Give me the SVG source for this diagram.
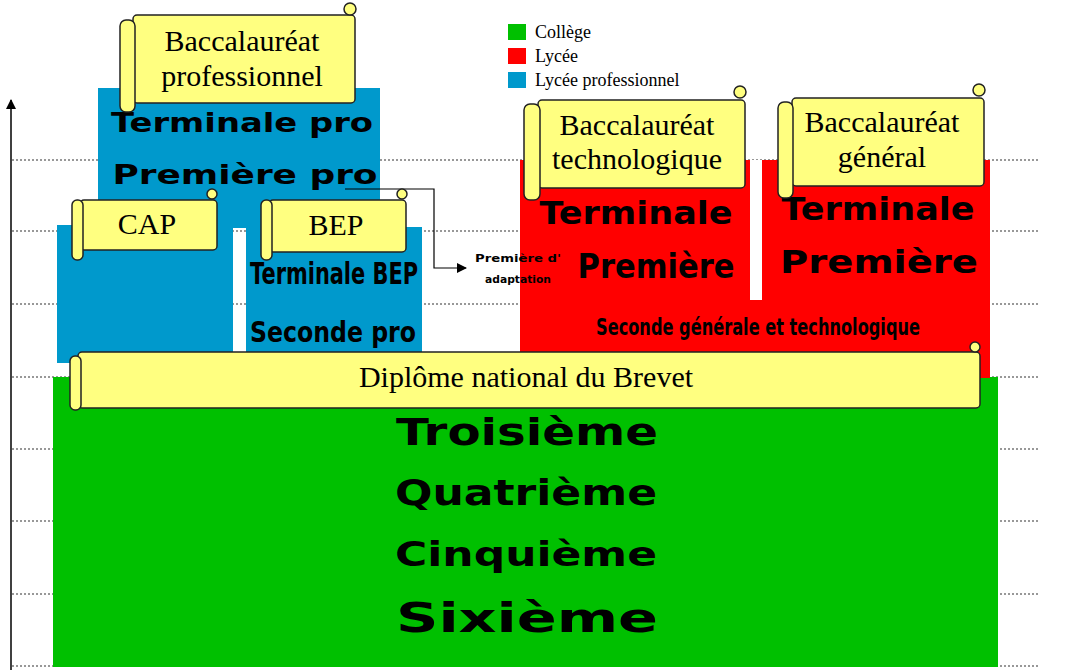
<svg xmlns="http://www.w3.org/2000/svg" width="1067" height="670" viewBox="0 0 1067 670">
<defs>
<style>
.dot{stroke:#333;stroke-width:1.2;stroke-dasharray:2 2}
.sc{fill:#ffff80;stroke:#222;stroke-width:1.5}
.st{font-family:"Liberation Serif",serif;font-size:30px;text-anchor:middle;fill:#000}
.bk{font-family:"DejaVu Sans",sans-serif;font-weight:bold;text-anchor:middle;fill:#000}
.lg{font-family:"Liberation Serif",serif;font-size:18px;fill:#000}
</style>
<marker id="ah" markerWidth="10" markerHeight="10" refX="9" refY="5" orient="auto" markerUnits="userSpaceOnUse"><path d="M0,0 L10,5 L0,10 Z" fill="#000"/></marker>
</defs>
<rect width="1067" height="670" fill="#fff"/>
<g id="grid">
<line class="dot" x1="12" y1="160" x2="1040" y2="160"/>
<line class="dot" x1="12" y1="231" x2="1040" y2="231"/>
<line class="dot" x1="12" y1="304" x2="1040" y2="304"/>
<line class="dot" x1="12" y1="377" x2="1040" y2="377"/>
<line class="dot" x1="12" y1="449" x2="1040" y2="449"/>
<line class="dot" x1="12" y1="521" x2="1040" y2="521"/>
<line class="dot" x1="12" y1="594" x2="1040" y2="594"/>
<line class="dot" x1="12" y1="666" x2="1040" y2="666"/>
</g>
<g id="college"><rect x="53" y="377" width="945" height="290" fill="#00c000"/>
<text class="bk" x="527" y="445" font-size="38" textLength="262" lengthAdjust="spacingAndGlyphs">Troisième</text>
<text class="bk" x="526" y="505" font-size="36" textLength="262" lengthAdjust="spacingAndGlyphs">Quatrième</text>
<text class="bk" x="526" y="566" font-size="34" textLength="262" lengthAdjust="spacingAndGlyphs">Cinquième</text>
<text class="bk" x="527" y="632" font-size="40" textLength="262" lengthAdjust="spacingAndGlyphs">Sixième</text>
</g>
<g id="lycee-pro">
<rect x="98" y="88" width="282" height="140" fill="#0099cc"/>
<rect x="57" y="225" width="176" height="138" fill="#0099cc"/>
<rect x="246" y="227" width="176" height="125" fill="#0099cc"/>
<text class="bk" x="242" y="132" font-size="26" textLength="262" lengthAdjust="spacingAndGlyphs">Terminale pro</text>
<text class="bk" x="245" y="184" font-size="26" textLength="265" lengthAdjust="spacingAndGlyphs">Première pro</text>
<text class="bk" x="334" y="284" font-size="30" textLength="168" lengthAdjust="spacingAndGlyphs">Terminale BEP</text>
<text class="bk" x="333" y="342" font-size="28" textLength="166" lengthAdjust="spacingAndGlyphs">Seconde pro</text>
</g>
<g id="lycee">
<rect x="520" y="160" width="470" height="192" fill="#ff0000"/>
<rect x="970" y="340" width="20" height="38" fill="#ff0000"/>
<rect x="750" y="160" width="12" height="140" fill="#fff"/>
<text class="bk" x="636" y="224" font-size="32" textLength="193" lengthAdjust="spacingAndGlyphs">Terminale</text>
<text class="bk" x="656" y="278" font-size="34" textLength="157" lengthAdjust="spacingAndGlyphs">Première</text>
<text class="bk" x="878" y="220" font-size="32" textLength="193" lengthAdjust="spacingAndGlyphs">Terminale</text>
<text class="bk" x="879" y="273" font-size="32" textLength="198" lengthAdjust="spacingAndGlyphs">Première</text>
<text class="bk" x="758" y="335" font-size="23" textLength="324" lengthAdjust="spacingAndGlyphs">Seconde générale et technologique</text>
<text class="bk" x="518" y="262" font-size="10" textLength="86" lengthAdjust="spacingAndGlyphs">Première d'</text>
<text class="bk" x="518" y="283" font-size="10" textLength="66" lengthAdjust="spacingAndGlyphs">adaptation</text>
</g>
<g id="connectors">
<line x1="11" y1="670" x2="11" y2="100" stroke="#000" stroke-width="1.5" marker-end="url(#ah)"/>
<polyline points="345,189 434,189 434,268 466,268" fill="none" stroke="#000" stroke-width="1.2" marker-end="url(#ah)"/>
</g>
<g id="scroll-bacpro">
<rect class="sc" x="133" y="15" width="222" height="88" rx="4"/>
<rect class="sc" x="120" y="20" width="15" height="92" rx="6"/>
<circle class="sc" cx="350" cy="9" r="6"/>
<text class="st" x="242" y="51">Baccalauréat</text><text class="st" x="242" y="86">professionnel</text>
</g>
<g id="scroll-cap">
<rect class="sc" x="80" y="200" width="137" height="50" rx="4"/>
<rect class="sc" x="72" y="200" width="11" height="60" rx="5"/>
<circle class="sc" cx="212" cy="194" r="5"/>
<text class="st" x="147" y="234">CAP</text>
</g>
<g id="scroll-bep">
<rect class="sc" x="269" y="200" width="137" height="52" rx="4"/>
<rect class="sc" x="261" y="200" width="11" height="60" rx="5"/>
<circle class="sc" cx="402" cy="194" r="5"/>
<text class="st" x="336" y="235">BEP</text>
</g>
<g id="scroll-bactech">
<rect class="sc" x="538" y="100" width="207" height="88" rx="4"/>
<rect class="sc" x="524" y="104" width="16" height="96" rx="6"/>
<circle class="sc" cx="740" cy="92" r="6"/>
<text class="st" x="637" y="135">Baccalauréat</text><text class="st" x="637" y="169">technologique</text>
</g>
<g id="scroll-bacgen">
<rect class="sc" x="792" y="98" width="192" height="88" rx="4"/>
<rect class="sc" x="778" y="102" width="15" height="96" rx="6"/>
<circle class="sc" cx="979" cy="90" r="6"/>
<text class="st" x="882" y="132">Baccalauréat</text><text class="st" x="882" y="167">général</text>
</g>
<g id="scroll-brevet">
<rect class="sc" x="78" y="352" width="902" height="56" rx="4"/>
<rect class="sc" x="70" y="356" width="11" height="54" rx="5"/>
<circle class="sc" cx="975" cy="347" r="5"/>
<text class="st" x="526" y="387" font-size="28">Diplôme national du Brevet</text>
</g>
<g id="legend">
<rect x="508" y="24" width="18" height="16" fill="#00c000"/>
<rect x="508" y="48" width="18" height="16" fill="#ff0000"/>
<rect x="508" y="72" width="18" height="16" fill="#0099cc"/>
<text class="lg" x="535" y="38">Collège</text>
<text class="lg" x="535" y="62">Lycée</text>
<text class="lg" x="535" y="86">Lycée professionnel</text>
</g>
</svg>
